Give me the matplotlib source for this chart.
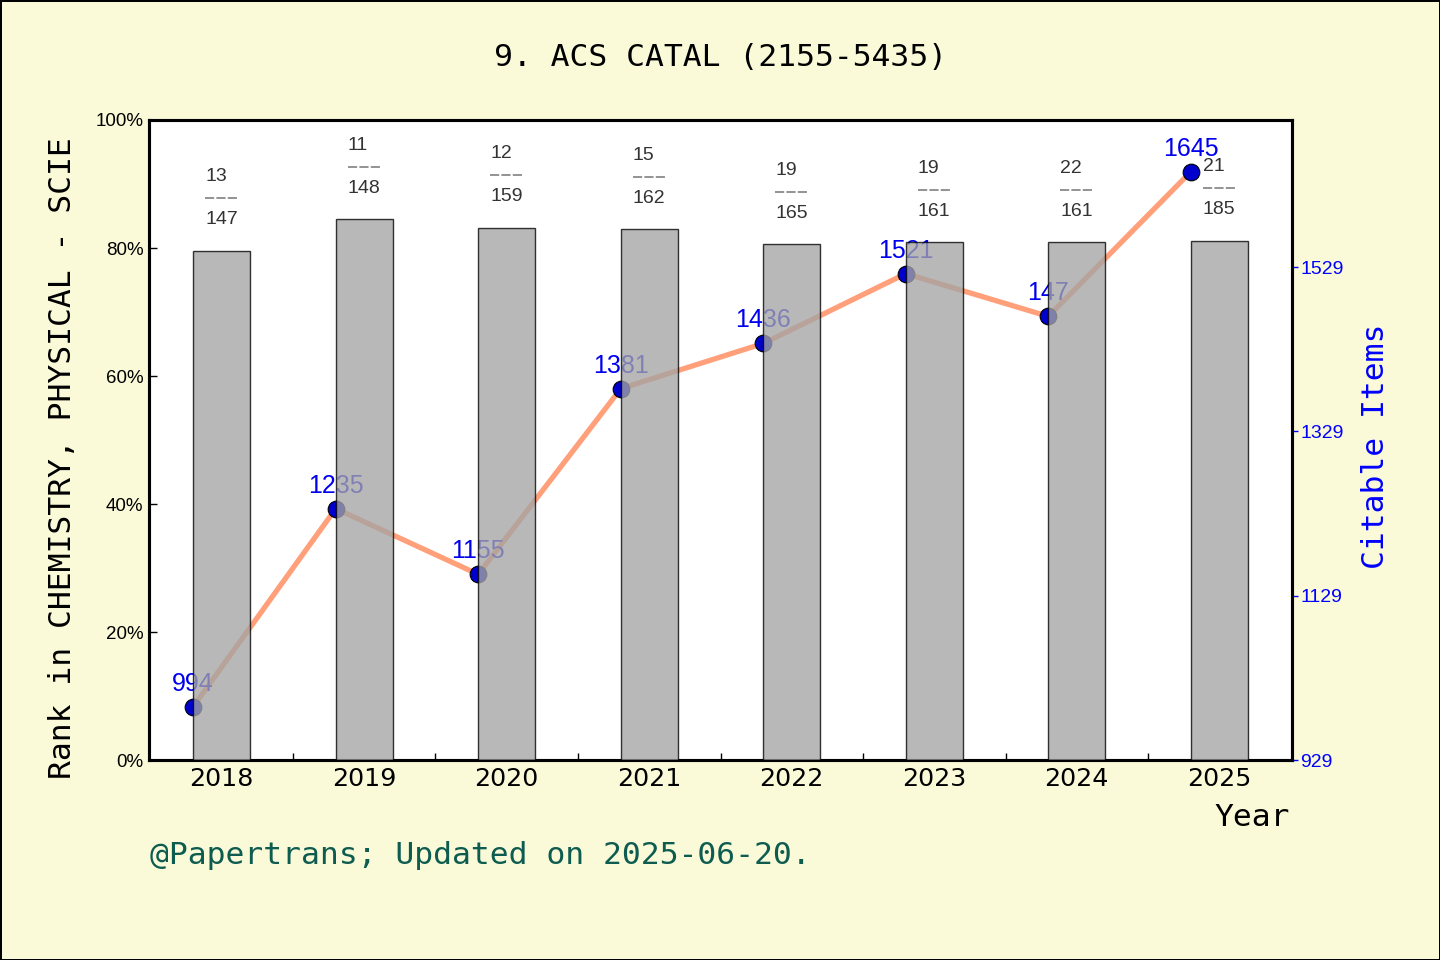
import matplotlib
matplotlib.use("Agg")
import matplotlib.pyplot as plt
from matplotlib.ticker import FixedLocator

years = [2018, 2019, 2020, 2021, 2022, 2023, 2024, 2025]
rank_pct = [79.6, 84.5, 83.2, 82.9, 80.6, 80.9, 80.9, 81.1]
rank_num = [13, 11, 12, 15, 19, 19, 22, 21]
rank_total = [147, 148, 159, 162, 165, 161, 161, 185]
citable = [994, 1235, 1155, 1381, 1436, 1521, 1469, 1645]
citable_labels = ["994", "1235", "1155", "1381", "1436", "1521", "147", "1645"]
right_ticks = [929, 1129, 1329, 1529]
left_ticks = [0, 20, 40, 60, 80, 100]

MONO = "DejaVu Sans Mono"
BG = "#fafad9"
FS_BIG = 22.6

fig = plt.figure(figsize=(14.4, 9.6), dpi=100, facecolor=BG,
                 edgecolor="black", linewidth=2)
ax_rect = [0.1035, 0.2083, 0.7937, 0.6667]
ax = fig.add_axes(ax_rect)
ax2 = ax.twinx()

# layering: bars (ax) above line (ax2)
ax2.set_zorder(1)
ax.set_zorder(2)
ax.patch.set_visible(False)
ax2.patch.set_visible(True)
ax2.patch.set_facecolor("white")

XLIM = (2017.69, 2025.71)
YLIM = (0, 100)
ax.set_xlim(*XLIM)
ax.set_ylim(*YLIM)
# data units per pixel (for small pixel-sized offsets)
xpx = (XLIM[1] - XLIM[0]) / (ax_rect[2] * 1440)
ypx = (YLIM[1] - YLIM[0]) / (ax_rect[3] * 960)

bw = 0.4
ax.bar(years, rank_pct, width=bw, align="edge", color="#a5a5a5", alpha=0.78,
       edgecolor="black", linewidth=1.0, zorder=3)
px = 0.72  # points per pixel at 100 dpi
for x, h, n, t in zip(years, rank_pct, rank_num, rank_total):
    xc = x + bw / 2
    common = dict(xy=(xc, h), textcoords="offset points", ha="left",
                  va="center", zorder=4, fontsize=14, family="Liberation Sans",
                  color="#333333")
    ax.annotate(str(t), xytext=(-16.5 * px, 31 * px), **common)
    ax.annotate(str(n), xytext=(-16.5 * px, 74 * px), **common)
    ax.plot([xc - 16.5 * xpx, xc + 15.5 * xpx], [h + 52.6 * ypx] * 2,
            color="#8a8a8a", linewidth=1.3, dashes=(6.6 / 1.3, 1.6 / 1.3),
            solid_capstyle="butt", dash_capstyle="butt", zorder=4)

ax.yaxis.set_major_locator(FixedLocator(left_ticks))
ax.set_yticklabels([f"{v}%" for v in left_ticks], fontsize=13.5,
                   family="Liberation Sans")
ax.tick_params(axis="y", direction="in", length=6, width=1, pad=4)

ax.set_xticks([y + 0.7 for y in years[:-1]])
ax.set_xticklabels([])
ax.tick_params(axis="x", which="major", direction="in", length=5, width=1)
ax.set_xticks([y + bw / 2 for y in years], minor=True)
ax.set_xticklabels([str(y) for y in years], minor=True, fontsize=18.3,
                   family="DejaVu Sans")
ax.tick_params(axis="x", which="minor", length=0, pad=5)

ax2.plot(years, citable, color="#ffa07a", linewidth=3.8, zorder=2,
         marker="o", markersize=12, markerfacecolor="#0000cc",
         markeredgecolor="black", markeredgewidth=0.8)
for x, v, lab in zip(years, citable, citable_labels):
    ax2.annotate(lab, xy=(x, v), xytext=(0, 8), textcoords="offset points",
                 ha="center", va="bottom", fontsize=18, color="#0000ee",
                 family="Liberation Sans", zorder=3)
ax2.set_ylim(929, 1708)
ax2.yaxis.set_major_locator(FixedLocator(right_ticks))
ax2.set_yticklabels([str(v) for v in right_ticks], fontsize=14,
                    family="Liberation Sans", color="blue")
ax2.tick_params(axis="y", direction="out", length=4, width=1, colors="blue",
                pad=2)

for a in (ax, ax2):
    for s in a.spines.values():
        s.set_linewidth(2.2)
        s.set_color("black")

fig.text(0.5, 1 - 57 / 960, "9. ACS CATAL (2155-5435)", ha="center",
         va="center", fontsize=FS_BIG, family=MONO, color="black")
fig.text(63 / 1440, 1 - 458 / 960, "Rank in CHEMISTRY, PHYSICAL - SCIE",
         rotation=90, ha="center", va="center", fontsize=FS_BIG, family=MONO,
         color="black")
fig.text(1375 / 1440, 1 - 446 / 960, "Citable Items", rotation=90,
         ha="center", va="center", fontsize=FS_BIG, family=MONO, color="blue")
fig.text(1290 / 1440, 1 - 817 / 960, "Year", ha="right", va="center",
         fontsize=FS_BIG, family=MONO, color="black")
fig.text(150 / 1440, 1 - 855 / 960, "@Papertrans; Updated on 2025-06-20.",
         ha="left", va="center", fontsize=FS_BIG, family=MONO, color="#0e5c50")

fig.savefig("out.png", dpi=100, facecolor=BG, edgecolor="black")
